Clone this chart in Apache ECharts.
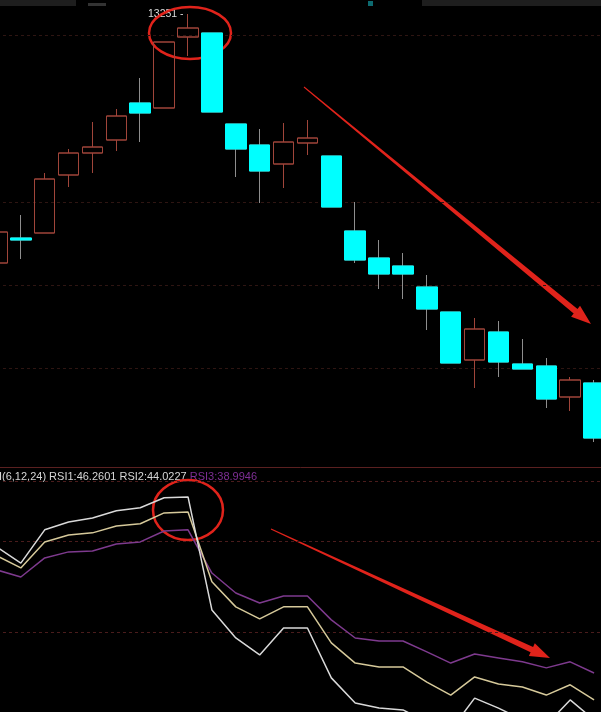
<!DOCTYPE html>
<html>
<head>
<meta charset="utf-8">
<script src="https://cdn.jsdelivr.net/npm/echarts@6/dist/echarts.min.js"></script>
<style>
html,body{margin:0;padding:0;background:#000;}
#c{width:601px;height:712px;}
</style>
</head>
<body>
<div id="c"></div>
<script>
// ---- data ----
const days = ['01','02','03','04','05','06','07','08','09','10','11','12','13','14','15','16','17','18','19','20','21','22','23','24','25','26'];
const opens  = [12753,12803,12813,12929,12973,12999,13073,13063,13205,13213,13031,12989,12951,12993,12967,12817,12763,12747,12705,12655,12559,12615,12551,12547,12485,12513];
const closes = [12815,12799,12921,12973,12985,13047,13053,13195,13223,13055,12981,12937,12995,13003,12865,12759,12731,12731,12661,12553,12621,12555,12541,12481,12519,12403];
const lows   = [12749,12761,12813,12905,12933,12977,12995,13063,13167,13055,12925,12873,12903,12969,12865,12753,12701,12681,12619,12553,12503,12525,12541,12463,12457,12395];
const highs  = [12827,12849,12933,12981,13035,13061,13123,13195,13251,13213,13031,13021,13033,13039,12967,12875,12799,12773,12729,12655,12643,12637,12601,12563,12525,12519];
const rsi1 = [78.1,72.8,83.8,86.4,87.7,90.1,91.1,94.4,94.7,57.3,48.0,42.4,51.3,51.3,34.8,26.5,24.8,24.2,20.2,17.5,28.1,24.8,20.9,19.2,27.5,20.9];
const rsi2 = [75.2,71.2,79.8,82.1,82.8,85.1,85.8,89.4,89.7,66.6,58.3,54.3,58.3,58.3,46.4,39.7,38.4,38.4,33.4,29.1,35.1,32.8,31.8,29.1,32.5,27.5];
const rsi3 = [70.5,68.2,74.5,76.5,76.8,79.1,79.8,83.4,83.8,69.5,62.9,59.6,61.9,61.9,54.0,48.0,47.0,47.0,43.4,39.7,42.7,41.4,40.1,38.1,40.1,36.4];
const priceLevels = [13209,12875,12709,12543];
const rsiLevels = [100,80,50];
const maxLabel = '13251 -';
const rsiHeader = 'RSI(6,12,24) RSI1:46.2601 RSI2:44.0227 ';
const rsi3Header = 'RSI3:38.9946';

// ---- build ----
const kData = days.map((d,i)=>[opens[i],closes[i],lows[i],highs[i]]);
// overlay without wicks so down bodies are solid cyan while wicks stay gray
const bodyData = days.map((d,i)=>[opens[i],closes[i],Math.min(opens[i],closes[i]),Math.max(opens[i],closes[i])]);

function arrowPts(x1,y1,x2,y2,w0,w1,hl,hw){
  const dx=x2-x1, dy=y2-y1, L=Math.hypot(dx,dy), ux=dx/L, uy=dy/L, nx=-uy, ny=ux;
  const bx=x2-hl*ux, by=y2-hl*uy;
  return [[x1+nx*w0/2,y1+ny*w0/2],[bx+nx*w1/2,by+ny*w1/2],[bx+nx*hw,by+ny*hw],[x2,y2],
          [bx-nx*hw,by-ny*hw],[bx-nx*w1/2,by-ny*w1/2],[x1-nx*w0/2,y1-ny*w0/2]];
}

const RED = '#a0453a', CYAN = '#00ffff', WICK = '#8e8e8e', ANN = '#e0231b';
const chart = echarts.init(document.getElementById('c'), null, {renderer:'canvas'});
chart.setOption({
  animation:false,
  backgroundColor:'#000',
  grid:[
    {left:-15, right:-5, top:0, height:452, outerBoundsMode:'none', containLabel:false},
    {left:-15, right:-5, top:467, height:245, outerBoundsMode:'none', containLabel:false}
  ],
  xAxis:[
    {type:'category', data:days, gridIndex:0, show:false, boundaryGap:true},
    {type:'category', data:days, gridIndex:1, show:false, boundaryGap:true}
  ],
  yAxis:[
    {type:'value', gridIndex:0, min:12375, max:13279, show:false, splitLine:{show:false}},
    {type:'value', gridIndex:1, min:23.5, max:104.6, show:false, splitLine:{show:false}}
  ],
  series:[
    {
      type:'candlestick', xAxisIndex:0, yAxisIndex:0, data:kData, z:3,
      barWidth:21, barMaxWidth:30, silent:true,
      itemStyle:{color:'rgba(0,0,0,0)', color0:CYAN, borderColor:RED, borderColor0:WICK, borderWidth:1},
      markLine:{silent:true, symbol:'none', label:{show:false}, z:1,
        lineStyle:{color:'#2e1512', type:[3,3], width:1},
        data:priceLevels.map(v=>({yAxis:v}))}
    },
    {
      type:'candlestick', xAxisIndex:0, yAxisIndex:0, data:bodyData, z:4,
      barWidth:21, barMaxWidth:30, silent:true,
      itemStyle:{color:'rgba(0,0,0,0)', color0:CYAN, borderColor:RED, borderColor0:CYAN, borderWidth:1}
    },
    {type:'line', xAxisIndex:1, yAxisIndex:1, data:rsi3, symbol:'none', silent:true, z:3,
      lineStyle:{color:'#7e3a8e', width:1.5},
      markLine:{silent:true, symbol:'none', label:{show:false}, z:1,
        lineStyle:{color:'#4a1c1c', type:[3,3], width:1},
        data:rsiLevels.map(v=>({yAxis:v}))}},
    {type:'line', xAxisIndex:1, yAxisIndex:1, data:rsi2, symbol:'none', silent:true, z:4,
      lineStyle:{color:'#d6c99a', width:1.5}},
    {type:'line', xAxisIndex:1, yAxisIndex:1, data:rsi1, symbol:'none', silent:true, z:5,
      lineStyle:{color:'#d9d9d9', width:1.5}}
  ],
  graphic:[
    {type:'rect', shape:{x:0,y:0,width:76,height:6}, style:{fill:'#1e1e1e'}, silent:true},
    {type:'rect', shape:{x:422,y:0,width:179,height:6}, style:{fill:'#1e1e1e'}, silent:true},
    {type:'rect', shape:{x:88,y:3,width:18,height:3}, style:{fill:'#333'}, silent:true},
    {type:'rect', shape:{x:368,y:1,width:5,height:5}, style:{fill:'#0d6a70'}, silent:true},
    {type:'line', shape:{x1:0,y1:467.5,x2:601,y2:467.5}, style:{stroke:'#5a2020', lineWidth:1}, silent:true},
    {type:'text', left:148, top:9, style:{text:maxLabel, fill:'#dcdcdc', font:'10.5px "Liberation Sans"'}, silent:true},
    {type:'text', left:-16.3, top:471, silent:true,
      style:{text:'{a|'+rsiHeader+'}{b|'+rsi3Header+'}', font:'11px "Liberation Sans"',
        rich:{a:{fill:'#d6d6d6', font:'11px "Liberation Sans"'}, b:{fill:'#7f2f96', font:'11px "Liberation Sans"'}}}},
    {type:'ellipse', shape:{cx:190, cy:33, rx:41, ry:26}, style:{fill:'none', stroke:ANN, lineWidth:2.5}, silent:true},
    {type:'ellipse', shape:{cx:188, cy:510, rx:35, ry:30}, style:{fill:'none', stroke:ANN, lineWidth:2.5}, silent:true},
    {type:'polygon', shape:{points:arrowPts(304,87,591,324,1,6,20,7)}, style:{fill:ANN}, silent:true},
    {type:'polygon', shape:{points:arrowPts(271,529,550,658,1,6,20,7)}, style:{fill:ANN}, silent:true}
  ]
});
</script>
</body>
</html>
